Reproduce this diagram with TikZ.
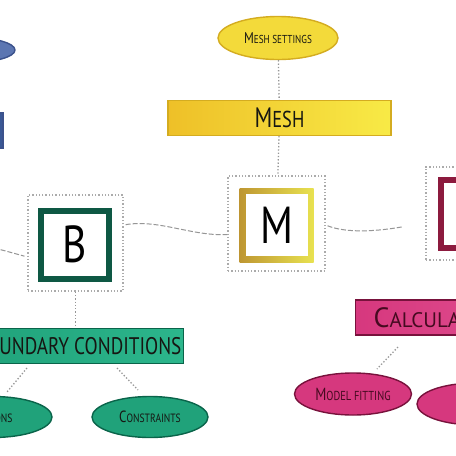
\documentclass[tikz,border=0pt]{standalone}
\usepackage{fontspec}
\setmainfont{PT Sans}[FakeStretch=0.8]
\newfontfamily\widefont{PT Sans}[FakeStretch=1.0]
\usepackage{graphicx}
\usetikzlibrary{shapes.geometric}

\definecolor{blueFill}{RGB}{92,118,178}
\definecolor{blueLine}{RGB}{60,82,140}
\definecolor{blueBar}{RGB}{58,88,150}
\definecolor{yelFill}{RGB}{243,218,58}
\definecolor{yelLine}{RGB}{212,172,32}
\definecolor{yelLeft}{RGB}{238,192,40}
\definecolor{yelRight}{RGB}{248,234,70}
\definecolor{goldLeft}{RGB}{190,150,50}
\definecolor{goldRight}{RGB}{232,226,80}
\definecolor{grnFill}{RGB}{32,162,122}
\definecolor{grnLight}{RGB}{44,182,140}
\definecolor{grnLine}{RGB}{10,100,74}
\definecolor{grnFrame}{RGB}{14,88,68}
\definecolor{pnkFill}{RGB}{214,56,126}
\definecolor{pnkLight}{RGB}{226,82,146}
\definecolor{pnkLine}{RGB}{120,18,60}
\definecolor{redFrame}{RGB}{140,26,62}
\definecolor{inkDark}{RGB}{22,22,18}
\definecolor{inkRed}{RGB}{70,10,32}
\definecolor{linkGray}{RGB}{150,150,150}

\newcommand{\capup}[2][1.3]{\scalebox{#1}{#2}}

\begin{document}
\begin{tikzpicture}[x=1pt,y=-1pt]
    \tikzset{bar/.style = {shape=rectangle, draw, line width=1.2pt, inner sep=0pt, minimum height=35pt, text=inkDark, font=\fontsize{23}{23}\selectfont}}
    \tikzset{oval/.style = {shape=ellipse, draw, line width=1.4pt, inner sep=0pt, minimum width=117pt, minimum height=42pt, text=inkDark, font=\fontsize{12}{12}\selectfont}}
    \tikzset{frame/.style = {shape=rectangle, draw, line width=6pt, minimum size=68pt, inner sep=0pt, font=\fontsize{52}{52}\selectfont}}
    \tikzset{dotbox/.style = {shape=rectangle, draw=linkGray!80, dotted, line width=1.3pt, inner sep=0pt}}
    \tikzset{dotlink/.style = {draw=linkGray, dotted, line width=1.3pt}}
    \tikzset{dashlink/.style = {draw=linkGray, dash pattern=on 5pt off 2pt, line width=1pt}}

    \useasboundingbox (0,0) rectangle (456,456);
    \fill[white] (0,0) rectangle (456,456);
    \begin{scope}
    \clip (0,0) rectangle (456,456);

    % blue branch, cut at the left edge
    \node[oval, fill=blueFill, draw=blueLine, minimum width=90pt, minimum height=25pt] (blueoval) at (-30,50) {};
    \node[bar, fill=blueBar, draw=blueLine, minimum width=153pt] (bluebar) at (-73.5,130.5) {};

    % mesh
    \node[oval, fill=yelFill, draw=yelLine, minimum width=120pt, minimum height=43pt, font=\fontsize{11.5}{11.5}\selectfont] (meshset) at (278,38) {\capup[1.35]{M}ESH SETTINGS};
    \node[bar, left color=yelLeft, right color=yelRight, draw=yelLine, minimum width=223pt] (meshbar) at (279.5,118) {\capup[1.22]{M}ESH};
    \node[dotbox, minimum width=97pt, minimum height=95pt] (mdots) at (276.5,223.5) {};
    \node[shape=rectangle, inner sep=0pt, minimum size=74pt, left color=goldLeft, right color=goldRight] (mframe) at (276.5,225) {};
    \node[shape=rectangle, fill=white, inner sep=0pt, minimum size=62pt, font=\fontsize{52}{52}\selectfont] (mletter) at (mframe) {M};

    % boundary conditions
    \node[dotbox, minimum width=95pt, minimum height=96pt] (bdots) at (75.5,243) {};
    \node[frame, draw=grnFrame] (bframe) at (75,244.5) {B};
    \node[bar, left color=grnFill, right color=grnLight, draw=grnLine, anchor=east, inner xsep=2pt, font=\fontsize{24}{24}\selectfont] (bcbar) at (184,346) {BOUNDARY CONDITIONS};
    \node[oval, fill=grnFill, draw=grnLine, minimum width=118pt, minimum height=41pt] (actoval) at (-7,417) {\capup[1.35]{A}CTIONS};
    \node[oval, fill=grnFill, draw=grnLine, minimum width=116pt, minimum height=41pt] (constroval) at (150,417) {\capup[1.35]{C}ONSTRAINTS};

    % calculation, cut at the right edge
    \node[dotbox, minimum width=96pt, minimum height=93pt] (cdots) at (474,213.5) {};
    \node[frame, draw=redFrame] (cframe) at (475,214) {};
    \node[bar, left color=pnkFill, right color=pnkLight, draw=pnkLine, anchor=west, text=inkRed, font=\widefont\fontsize{21}{21}\selectfont, text width=170pt, align=left, inner xsep=18pt] (calcbar) at (355,317.5) {\capup[1.33]{C}ALCULATION};
    \node[oval, fill=pnkFill, draw=pnkLine, text=inkRed, font=\fontsize{13}{13}\selectfont] (fitoval) at (353,394) {\capup[1.35]{M}ODEL FITTING};
    \node[oval, fill=pnkFill, draw=pnkLine] (calcoval) at (475.5,404) {};

    \coordinate (leftin) at (-20,246);
    \coordinate (bcleft) at (27,368);
    \coordinate (actend) at (7,392);
    \coordinate (bcright) at (117,368);
    \coordinate (constrend) at (138,390);
    \coordinate (calcleft) at (398,347);
    \coordinate (fitend) at (377,369);

    \draw[dotlink] (meshset) to (meshbar);
    \draw[dotlink] (meshbar) to (mdots);
    \draw[dotlink] (bdots.south) to (bdots.south |- bcbar.north);
    \draw[dotlink] (bcleft) to (actend);
    \draw[dotlink] (bcright) to (constrend);
    \draw[dotlink] (calcleft) to (fitend);

    \draw[dashlink, shorten <=2pt] ([yshift=18pt]bdots.east) .. controls +(35,-6) and +(-35,2) .. ([yshift=-11pt]mdots.west);
    \draw[dashlink, shorten <=2pt, shorten >=24pt] ([yshift=-1.5pt]mdots.east) .. controls +(30,12) and +(-20,6) .. ([yshift=-6.5pt]cdots.west);
    \draw[dashlink, shorten >=3pt] (leftin) .. controls +(15,2) .. ([yshift=-14pt]bdots.west);
    \end{scope}
\end{tikzpicture}
\end{document}
